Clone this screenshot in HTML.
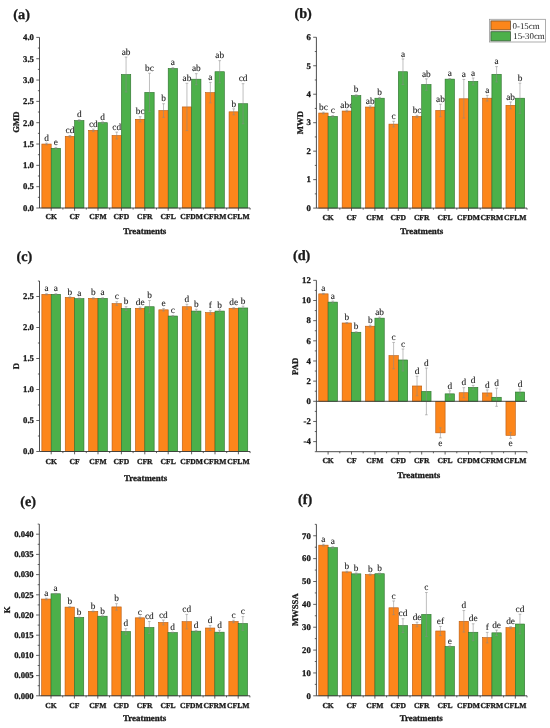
<!DOCTYPE html>
<html><head><meta charset="utf-8"><style>
html,body{margin:0;padding:0;background:#fff;}
svg{display:block;will-change:transform;}
text{font-family:"Liberation Serif", serif;fill:#1a1a1a;text-rendering:geometricPrecision;}
text[font-weight=bold]{stroke:#1a1a1a;stroke-width:0.3px;}
text.l{stroke:#1a1a1a;stroke-width:0.12px;}
</style></head><body>
<svg width="550" height="728" viewBox="0 0 550 728">
<rect width="550" height="728" fill="#fff"/>
<text x="13.3" y="19.2" font-size="14.3" font-weight="bold">(a)</text>
<rect x="41.85" y="144.03" width="9.35" height="63.97" fill="#fc861b" stroke="#b85a10" stroke-width="0.6"/>
<path d="M46.52 143.17V144.88M45.17 143.17H47.88M45.17 144.88H47.88" stroke="#8a8a8a" stroke-width="0.55" fill="none"/>
<text x="46.52" y="140.87" font-size="9.3" text-anchor="middle" class="l">d</text>
<rect x="51.2" y="148.29" width="9.35" height="59.71" fill="#4cb04a" stroke="#2c6e2c" stroke-width="0.6"/>
<path d="M55.88 147.44V149.14M54.52 147.44H57.23M54.52 149.14H57.23" stroke="#8a8a8a" stroke-width="0.55" fill="none"/>
<text x="55.88" y="145.14" font-size="9.3" text-anchor="middle" class="l">e</text>
<rect x="65.25" y="136.35" width="9.35" height="71.65" fill="#fc861b" stroke="#b85a10" stroke-width="0.6"/>
<path d="M69.92 135.5V137.2M68.58 135.5H71.27M68.58 137.2H71.27" stroke="#8a8a8a" stroke-width="0.55" fill="none"/>
<text x="69.92" y="133.19" font-size="9.3" text-anchor="middle" class="l">cd</text>
<rect x="74.6" y="120.57" width="9.35" height="87.43" fill="#4cb04a" stroke="#2c6e2c" stroke-width="0.6"/>
<path d="M79.27 119.71V121.42M77.92 119.71H80.62M77.92 121.42H80.62" stroke="#8a8a8a" stroke-width="0.55" fill="none"/>
<text x="79.27" y="117.41" font-size="9.3" text-anchor="middle" class="l">d</text>
<rect x="88.65" y="130.38" width="9.35" height="77.62" fill="#fc861b" stroke="#b85a10" stroke-width="0.6"/>
<path d="M93.33 129.1V131.66M91.98 129.1H94.67M91.98 131.66H94.67" stroke="#8a8a8a" stroke-width="0.55" fill="none"/>
<text x="93.33" y="126.8" font-size="9.3" text-anchor="middle" class="l">cd</text>
<rect x="98" y="122.7" width="9.35" height="85.3" fill="#4cb04a" stroke="#2c6e2c" stroke-width="0.6"/>
<path d="M102.67 121.85V123.55M101.33 121.85H104.02M101.33 123.55H104.02" stroke="#8a8a8a" stroke-width="0.55" fill="none"/>
<text x="102.67" y="119.55" font-size="9.3" text-anchor="middle" class="l">d</text>
<rect x="112.05" y="135.5" width="9.35" height="72.5" fill="#fc861b" stroke="#b85a10" stroke-width="0.6"/>
<path d="M116.72 132.08V138.91M115.38 132.08H118.07M115.38 138.91H118.07" stroke="#8a8a8a" stroke-width="0.55" fill="none"/>
<text x="116.72" y="129.78" font-size="9.3" text-anchor="middle" class="l">cd</text>
<rect x="121.4" y="74.51" width="9.35" height="133.49" fill="#4cb04a" stroke="#2c6e2c" stroke-width="0.6"/>
<path d="M126.07 57.02V91.99M124.72 57.02H127.42M124.72 91.99H127.42" stroke="#8a8a8a" stroke-width="0.55" fill="none"/>
<text x="126.07" y="54.72" font-size="9.3" text-anchor="middle" class="l">ab</text>
<rect x="135.45" y="119.29" width="9.35" height="88.71" fill="#fc861b" stroke="#b85a10" stroke-width="0.6"/>
<path d="M140.13 116.73V121.85M138.78 116.73H141.48M138.78 121.85H141.48" stroke="#8a8a8a" stroke-width="0.55" fill="none"/>
<text x="140.13" y="114.43" font-size="9.3" text-anchor="middle" class="l">bc</text>
<rect x="144.8" y="92.42" width="9.35" height="115.58" fill="#4cb04a" stroke="#2c6e2c" stroke-width="0.6"/>
<path d="M149.48 73.23V111.61M148.13 73.23H150.83M148.13 111.61H150.83" stroke="#8a8a8a" stroke-width="0.55" fill="none"/>
<text x="149.48" y="70.93" font-size="9.3" text-anchor="middle" class="l">bc</text>
<rect x="158.85" y="110.54" width="9.35" height="97.46" fill="#fc861b" stroke="#b85a10" stroke-width="0.6"/>
<path d="M163.53 103.72V117.37M162.18 103.72H164.88M162.18 117.37H164.88" stroke="#8a8a8a" stroke-width="0.55" fill="none"/>
<text x="163.53" y="101.42" font-size="9.3" text-anchor="middle" class="l">b</text>
<rect x="168.2" y="68.53" width="9.35" height="139.47" fill="#4cb04a" stroke="#2c6e2c" stroke-width="0.6"/>
<path d="M172.88 67.68V69.39M171.53 67.68H174.22M171.53 69.39H174.22" stroke="#8a8a8a" stroke-width="0.55" fill="none"/>
<text x="172.88" y="65.38" font-size="9.3" text-anchor="middle" class="l">a</text>
<rect x="182.25" y="106.92" width="9.35" height="101.08" fill="#fc861b" stroke="#b85a10" stroke-width="0.6"/>
<path d="M186.93 83.25V130.59M185.58 83.25H188.28M185.58 130.59H188.28" stroke="#8a8a8a" stroke-width="0.55" fill="none"/>
<text x="186.93" y="80.95" font-size="9.3" text-anchor="middle" class="l">ab</text>
<rect x="191.6" y="79.2" width="9.35" height="128.8" fill="#4cb04a" stroke="#2c6e2c" stroke-width="0.6"/>
<path d="M196.28 73.65V84.74M194.93 73.65H197.62M194.93 84.74H197.62" stroke="#8a8a8a" stroke-width="0.55" fill="none"/>
<text x="196.28" y="71.35" font-size="9.3" text-anchor="middle" class="l">ab</text>
<rect x="205.65" y="92.63" width="9.35" height="115.37" fill="#fc861b" stroke="#b85a10" stroke-width="0.6"/>
<path d="M210.33 82.4V102.87M208.98 82.4H211.68M208.98 102.87H211.68" stroke="#8a8a8a" stroke-width="0.55" fill="none"/>
<text x="210.33" y="80.1" font-size="9.3" text-anchor="middle" class="l">a</text>
<rect x="215" y="71.73" width="9.35" height="136.27" fill="#4cb04a" stroke="#2c6e2c" stroke-width="0.6"/>
<path d="M219.68 60.64V82.82M218.33 60.64H221.03M218.33 82.82H221.03" stroke="#8a8a8a" stroke-width="0.55" fill="none"/>
<text x="219.68" y="58.34" font-size="9.3" text-anchor="middle" class="l">ab</text>
<rect x="229.05" y="111.82" width="9.35" height="96.18" fill="#fc861b" stroke="#b85a10" stroke-width="0.6"/>
<path d="M233.72 108.84V114.81M232.38 108.84H235.07M232.38 114.81H235.07" stroke="#8a8a8a" stroke-width="0.55" fill="none"/>
<text x="233.72" y="106.54" font-size="9.3" text-anchor="middle" class="l">b</text>
<rect x="238.4" y="103.72" width="9.35" height="104.28" fill="#4cb04a" stroke="#2c6e2c" stroke-width="0.6"/>
<path d="M243.07 83.68V123.77M241.72 83.68H244.42M241.72 123.77H244.42" stroke="#8a8a8a" stroke-width="0.55" fill="none"/>
<text x="243.07" y="81.38" font-size="9.3" text-anchor="middle" class="l">cd</text>
<path d="M39.5 37.4V208H250.1" stroke="#3a3a3a" stroke-width="0.9" fill="none"/>
<text x="33.9" y="210.8" font-size="8.7" font-weight="bold" text-anchor="end">0.0</text>
<text x="33.9" y="189.48" font-size="8.7" font-weight="bold" text-anchor="end">0.5</text>
<text x="33.9" y="168.15" font-size="8.7" font-weight="bold" text-anchor="end">1.0</text>
<text x="33.9" y="146.83" font-size="8.7" font-weight="bold" text-anchor="end">1.5</text>
<text x="33.9" y="125.5" font-size="8.7" font-weight="bold" text-anchor="end">2.0</text>
<text x="33.9" y="104.17" font-size="8.7" font-weight="bold" text-anchor="end">2.5</text>
<text x="33.9" y="82.85" font-size="8.7" font-weight="bold" text-anchor="end">3.0</text>
<text x="33.9" y="61.52" font-size="8.7" font-weight="bold" text-anchor="end">3.5</text>
<text x="33.9" y="40.2" font-size="8.7" font-weight="bold" text-anchor="end">4.0</text>
<text x="51.2" y="219.4" font-size="7.6" font-weight="bold" text-anchor="middle">CK</text>
<text x="74.6" y="219.4" font-size="7.6" font-weight="bold" text-anchor="middle">CF</text>
<text x="98" y="219.4" font-size="7.6" font-weight="bold" text-anchor="middle">CFM</text>
<text x="121.4" y="219.4" font-size="7.6" font-weight="bold" text-anchor="middle">CFD</text>
<text x="144.8" y="219.4" font-size="7.6" font-weight="bold" text-anchor="middle">CFR</text>
<text x="168.2" y="219.4" font-size="7.6" font-weight="bold" text-anchor="middle">CFL</text>
<text x="191.6" y="219.4" font-size="7.6" font-weight="bold" text-anchor="middle">CFDM</text>
<text x="215" y="219.4" font-size="7.6" font-weight="bold" text-anchor="middle">CFRM</text>
<text x="238.4" y="219.4" font-size="7.6" font-weight="bold" text-anchor="middle">CFLM</text>
<path d="M36.3 208H39.5M36.3 186.68H39.5M36.3 165.35H39.5M36.3 144.03H39.5M36.3 122.7H39.5M36.3 101.38H39.5M36.3 80.05H39.5M36.3 58.72H39.5M36.3 37.4H39.5M37.9 197.34H39.5M37.9 176.01H39.5M37.9 154.69H39.5M37.9 133.36H39.5M37.9 112.04H39.5M37.9 90.71H39.5M37.9 69.39H39.5M37.9 48.06H39.5M51.2 208V210.8M62.9 208V209.6M74.6 208V210.8M86.3 208V209.6M98 208V210.8M109.7 208V209.6M121.4 208V210.8M133.1 208V209.6M144.8 208V210.8M156.5 208V209.6M168.2 208V210.8M179.9 208V209.6M191.6 208V210.8M203.3 208V209.6M215 208V210.8M226.7 208V209.6M238.4 208V210.8M250.1 208V209.6" stroke="#3a3a3a" stroke-width="0.8" fill="none"/>
<text x="144.8" y="233.8" font-size="8.9" font-weight="bold" text-anchor="middle">Treatments</text>
<text transform="translate(19.3 122.2) rotate(-90)" font-size="8.7" font-weight="bold" text-anchor="middle">GMD</text>
<text x="294.4" y="17.9" font-size="14.3" font-weight="bold">(b)</text>
<rect x="318.75" y="113.01" width="9.35" height="95.09" fill="#fc861b" stroke="#b85a10" stroke-width="0.6"/>
<path d="M323.42 112.16V113.86M322.07 112.16H324.77M322.07 113.86H324.77" stroke="#8a8a8a" stroke-width="0.55" fill="none"/>
<text x="323.42" y="109.86" font-size="9.3" text-anchor="middle" class="l">bc</text>
<rect x="328.1" y="116.43" width="9.35" height="91.67" fill="#4cb04a" stroke="#2c6e2c" stroke-width="0.6"/>
<path d="M332.77 115.57V117.28M331.42 115.57H334.12M331.42 117.28H334.12" stroke="#8a8a8a" stroke-width="0.55" fill="none"/>
<text x="332.77" y="113.27" font-size="9.3" text-anchor="middle" class="l">c</text>
<rect x="342.15" y="111.02" width="9.35" height="97.08" fill="#fc861b" stroke="#b85a10" stroke-width="0.6"/>
<path d="M346.82 110.16V111.87M345.47 110.16H348.18M345.47 111.87H348.18" stroke="#8a8a8a" stroke-width="0.55" fill="none"/>
<text x="346.82" y="107.86" font-size="9.3" text-anchor="middle" class="l">abc</text>
<rect x="351.5" y="95.64" width="9.35" height="112.46" fill="#4cb04a" stroke="#2c6e2c" stroke-width="0.6"/>
<path d="M356.18 94.79V96.5M354.82 94.79H357.53M354.82 96.5H357.53" stroke="#8a8a8a" stroke-width="0.55" fill="none"/>
<text x="356.18" y="92.49" font-size="9.3" text-anchor="middle" class="l">b</text>
<rect x="365.55" y="107.03" width="9.35" height="101.07" fill="#fc861b" stroke="#b85a10" stroke-width="0.6"/>
<path d="M370.22 105.89V108.17M368.87 105.89H371.57M368.87 108.17H371.57" stroke="#8a8a8a" stroke-width="0.55" fill="none"/>
<text x="370.22" y="103.59" font-size="9.3" text-anchor="middle" class="l">ab</text>
<rect x="374.9" y="98.21" width="9.35" height="109.89" fill="#4cb04a" stroke="#2c6e2c" stroke-width="0.6"/>
<path d="M379.57 97.35V99.06M378.22 97.35H380.93M378.22 99.06H380.93" stroke="#8a8a8a" stroke-width="0.55" fill="none"/>
<text x="379.57" y="95.05" font-size="9.3" text-anchor="middle" class="l">b</text>
<rect x="388.95" y="124.11" width="9.35" height="83.99" fill="#fc861b" stroke="#b85a10" stroke-width="0.6"/>
<path d="M393.62 121.27V126.96M392.27 121.27H394.97M392.27 126.96H394.97" stroke="#8a8a8a" stroke-width="0.55" fill="none"/>
<text x="393.62" y="118.97" font-size="9.3" text-anchor="middle" class="l">c</text>
<rect x="398.3" y="71.73" width="9.35" height="136.37" fill="#4cb04a" stroke="#2c6e2c" stroke-width="0.6"/>
<path d="M402.97 58.92V84.54M401.62 58.92H404.32M401.62 84.54H404.32" stroke="#8a8a8a" stroke-width="0.55" fill="none"/>
<text x="402.97" y="56.62" font-size="9.3" text-anchor="middle" class="l">a</text>
<rect x="412.35" y="116.43" width="9.35" height="91.67" fill="#fc861b" stroke="#b85a10" stroke-width="0.6"/>
<path d="M417.02 115.29V117.57M415.67 115.29H418.38M415.67 117.57H418.38" stroke="#8a8a8a" stroke-width="0.55" fill="none"/>
<text x="417.02" y="112.99" font-size="9.3" text-anchor="middle" class="l">bc</text>
<rect x="421.7" y="84.54" width="9.35" height="123.56" fill="#4cb04a" stroke="#2c6e2c" stroke-width="0.6"/>
<path d="M426.38 78.85V90.23M425.02 78.85H427.73M425.02 90.23H427.73" stroke="#8a8a8a" stroke-width="0.55" fill="none"/>
<text x="426.38" y="76.55" font-size="9.3" text-anchor="middle" class="l">ab</text>
<rect x="435.75" y="110.45" width="9.35" height="97.65" fill="#fc861b" stroke="#b85a10" stroke-width="0.6"/>
<path d="M440.42 104.18V116.71M439.07 104.18H441.77M439.07 116.71H441.77" stroke="#8a8a8a" stroke-width="0.55" fill="none"/>
<text x="440.42" y="101.88" font-size="9.3" text-anchor="middle" class="l">ab</text>
<rect x="445.1" y="79.13" width="9.35" height="128.97" fill="#4cb04a" stroke="#2c6e2c" stroke-width="0.6"/>
<path d="M449.77 78.56V79.7M448.42 78.56H451.12M448.42 79.7H451.12" stroke="#8a8a8a" stroke-width="0.55" fill="none"/>
<text x="449.77" y="76.26" font-size="9.3" text-anchor="middle" class="l">a</text>
<rect x="459.15" y="98.78" width="9.35" height="109.32" fill="#fc861b" stroke="#b85a10" stroke-width="0.6"/>
<path d="M463.82 79.42V118.13M462.47 79.42H465.18M462.47 118.13H465.18" stroke="#8a8a8a" stroke-width="0.55" fill="none"/>
<text x="463.82" y="77.12" font-size="9.3" text-anchor="middle" class="l">a</text>
<rect x="468.5" y="81.41" width="9.35" height="126.69" fill="#4cb04a" stroke="#2c6e2c" stroke-width="0.6"/>
<path d="M473.18 77.99V84.82M471.82 77.99H474.53M471.82 84.82H474.53" stroke="#8a8a8a" stroke-width="0.55" fill="none"/>
<text x="473.18" y="75.69" font-size="9.3" text-anchor="middle" class="l">a</text>
<rect x="482.55" y="98.21" width="9.35" height="109.89" fill="#fc861b" stroke="#b85a10" stroke-width="0.6"/>
<path d="M487.22 95.36V101.05M485.87 95.36H488.57M485.87 101.05H488.57" stroke="#8a8a8a" stroke-width="0.55" fill="none"/>
<text x="487.22" y="93.06" font-size="9.3" text-anchor="middle" class="l">a</text>
<rect x="491.9" y="74.29" width="9.35" height="133.81" fill="#4cb04a" stroke="#2c6e2c" stroke-width="0.6"/>
<path d="M496.57 66.6V81.98M495.22 66.6H497.93M495.22 81.98H497.93" stroke="#8a8a8a" stroke-width="0.55" fill="none"/>
<text x="496.57" y="64.3" font-size="9.3" text-anchor="middle" class="l">a</text>
<rect x="505.95" y="105.32" width="9.35" height="102.78" fill="#fc861b" stroke="#b85a10" stroke-width="0.6"/>
<path d="M510.62 101.91V108.74M509.27 101.91H511.97M509.27 108.74H511.97" stroke="#8a8a8a" stroke-width="0.55" fill="none"/>
<text x="510.62" y="99.61" font-size="9.3" text-anchor="middle" class="l">ab</text>
<rect x="515.3" y="98.21" width="9.35" height="109.89" fill="#4cb04a" stroke="#2c6e2c" stroke-width="0.6"/>
<path d="M519.97 83.12V113.29M518.62 83.12H521.32M518.62 113.29H521.32" stroke="#8a8a8a" stroke-width="0.55" fill="none"/>
<text x="519.97" y="80.82" font-size="9.3" text-anchor="middle" class="l">b</text>
<path d="M316.4 37.28V208.1H527" stroke="#3a3a3a" stroke-width="0.9" fill="none"/>
<text x="310.8" y="210.9" font-size="8.7" font-weight="bold" text-anchor="end">0</text>
<text x="310.8" y="182.43" font-size="8.7" font-weight="bold" text-anchor="end">1</text>
<text x="310.8" y="153.96" font-size="8.7" font-weight="bold" text-anchor="end">2</text>
<text x="310.8" y="125.49" font-size="8.7" font-weight="bold" text-anchor="end">3</text>
<text x="310.8" y="97.02" font-size="8.7" font-weight="bold" text-anchor="end">4</text>
<text x="310.8" y="68.55" font-size="8.7" font-weight="bold" text-anchor="end">5</text>
<text x="310.8" y="40.08" font-size="8.7" font-weight="bold" text-anchor="end">6</text>
<text x="328.1" y="219.5" font-size="7.6" font-weight="bold" text-anchor="middle">CK</text>
<text x="351.5" y="219.5" font-size="7.6" font-weight="bold" text-anchor="middle">CF</text>
<text x="374.9" y="219.5" font-size="7.6" font-weight="bold" text-anchor="middle">CFM</text>
<text x="398.3" y="219.5" font-size="7.6" font-weight="bold" text-anchor="middle">CFD</text>
<text x="421.7" y="219.5" font-size="7.6" font-weight="bold" text-anchor="middle">CFR</text>
<text x="445.1" y="219.5" font-size="7.6" font-weight="bold" text-anchor="middle">CFL</text>
<text x="468.5" y="219.5" font-size="7.6" font-weight="bold" text-anchor="middle">CFDM</text>
<text x="491.9" y="219.5" font-size="7.6" font-weight="bold" text-anchor="middle">CFRM</text>
<text x="515.3" y="219.5" font-size="7.6" font-weight="bold" text-anchor="middle">CFLM</text>
<path d="M313.2 208.1H316.4M313.2 179.63H316.4M313.2 151.16H316.4M313.2 122.69H316.4M313.2 94.22H316.4M313.2 65.75H316.4M313.2 37.28H316.4M314.8 193.87H316.4M314.8 165.39H316.4M314.8 136.93H316.4M314.8 108.45H316.4M314.8 79.98H316.4M314.8 51.52H316.4M328.1 208.1V210.9M339.8 208.1V209.7M351.5 208.1V210.9M363.2 208.1V209.7M374.9 208.1V210.9M386.6 208.1V209.7M398.3 208.1V210.9M410 208.1V209.7M421.7 208.1V210.9M433.4 208.1V209.7M445.1 208.1V210.9M456.8 208.1V209.7M468.5 208.1V210.9M480.2 208.1V209.7M491.9 208.1V210.9M503.6 208.1V209.7M515.3 208.1V210.9M527 208.1V209.7" stroke="#3a3a3a" stroke-width="0.8" fill="none"/>
<text x="421.7" y="233.9" font-size="8.9" font-weight="bold" text-anchor="middle">Treatments</text>
<text transform="translate(302.7 122.6) rotate(-90)" font-size="8.7" font-weight="bold" text-anchor="middle">MWD</text>
<text x="16.4" y="260.7" font-size="14.3" font-weight="bold">(c)</text>
<rect x="41.85" y="294.33" width="9.35" height="157.17" fill="#fc861b" stroke="#b85a10" stroke-width="0.6"/>
<path d="M46.52 293.71V294.95M45.17 293.71H47.88M45.17 294.95H47.88" stroke="#8a8a8a" stroke-width="0.55" fill="none"/>
<text x="46.52" y="291.41" font-size="9.3" text-anchor="middle" class="l">a</text>
<rect x="51.2" y="294.33" width="9.35" height="157.17" fill="#4cb04a" stroke="#2c6e2c" stroke-width="0.6"/>
<path d="M55.88 293.71V294.95M54.52 293.71H57.23M54.52 294.95H57.23" stroke="#8a8a8a" stroke-width="0.55" fill="none"/>
<text x="55.88" y="291.41" font-size="9.3" text-anchor="middle" class="l">a</text>
<rect x="65.25" y="297.43" width="9.35" height="154.07" fill="#fc861b" stroke="#b85a10" stroke-width="0.6"/>
<path d="M69.92 296.81V298.05M68.58 296.81H71.27M68.58 298.05H71.27" stroke="#8a8a8a" stroke-width="0.55" fill="none"/>
<text x="69.92" y="294.51" font-size="9.3" text-anchor="middle" class="l">b</text>
<rect x="74.6" y="298.67" width="9.35" height="152.83" fill="#4cb04a" stroke="#2c6e2c" stroke-width="0.6"/>
<path d="M79.27 298.05V299.29M77.92 298.05H80.62M77.92 299.29H80.62" stroke="#8a8a8a" stroke-width="0.55" fill="none"/>
<text x="79.27" y="295.75" font-size="9.3" text-anchor="middle" class="l">a</text>
<rect x="88.65" y="298.36" width="9.35" height="153.14" fill="#fc861b" stroke="#b85a10" stroke-width="0.6"/>
<path d="M93.33 297.74V298.98M91.98 297.74H94.67M91.98 298.98H94.67" stroke="#8a8a8a" stroke-width="0.55" fill="none"/>
<text x="93.33" y="295.44" font-size="9.3" text-anchor="middle" class="l">b</text>
<rect x="98" y="298.36" width="9.35" height="153.14" fill="#4cb04a" stroke="#2c6e2c" stroke-width="0.6"/>
<path d="M102.67 297.74V298.98M101.33 297.74H104.02M101.33 298.98H104.02" stroke="#8a8a8a" stroke-width="0.55" fill="none"/>
<text x="102.67" y="295.44" font-size="9.3" text-anchor="middle" class="l">a</text>
<rect x="112.05" y="303.63" width="9.35" height="147.87" fill="#fc861b" stroke="#b85a10" stroke-width="0.6"/>
<path d="M116.72 301.77V305.49M115.38 301.77H118.07M115.38 305.49H118.07" stroke="#8a8a8a" stroke-width="0.55" fill="none"/>
<text x="116.72" y="299.47" font-size="9.3" text-anchor="middle" class="l">c</text>
<rect x="121.4" y="308.59" width="9.35" height="142.91" fill="#4cb04a" stroke="#2c6e2c" stroke-width="0.6"/>
<path d="M126.07 306.73V310.45M124.72 306.73H127.42M124.72 310.45H127.42" stroke="#8a8a8a" stroke-width="0.55" fill="none"/>
<text x="126.07" y="304.43" font-size="9.3" text-anchor="middle" class="l">b</text>
<rect x="135.45" y="308.28" width="9.35" height="143.22" fill="#fc861b" stroke="#b85a10" stroke-width="0.6"/>
<path d="M140.13 307.04V309.52M138.78 307.04H141.48M138.78 309.52H141.48" stroke="#8a8a8a" stroke-width="0.55" fill="none"/>
<text x="140.13" y="304.74" font-size="9.3" text-anchor="middle" class="l">de</text>
<rect x="144.8" y="306.73" width="9.35" height="144.77" fill="#4cb04a" stroke="#2c6e2c" stroke-width="0.6"/>
<path d="M149.48 300.53V312.93M148.13 300.53H150.83M148.13 312.93H150.83" stroke="#8a8a8a" stroke-width="0.55" fill="none"/>
<text x="149.48" y="298.23" font-size="9.3" text-anchor="middle" class="l">b</text>
<rect x="158.85" y="309.83" width="9.35" height="141.67" fill="#fc861b" stroke="#b85a10" stroke-width="0.6"/>
<path d="M163.53 308.59V311.07M162.18 308.59H164.88M162.18 311.07H164.88" stroke="#8a8a8a" stroke-width="0.55" fill="none"/>
<text x="163.53" y="306.29" font-size="9.3" text-anchor="middle" class="l">e</text>
<rect x="168.2" y="316.03" width="9.35" height="135.47" fill="#4cb04a" stroke="#2c6e2c" stroke-width="0.6"/>
<path d="M172.88 315.41V316.65M171.53 315.41H174.22M171.53 316.65H174.22" stroke="#8a8a8a" stroke-width="0.55" fill="none"/>
<text x="172.88" y="313.11" font-size="9.3" text-anchor="middle" class="l">c</text>
<rect x="182.25" y="306.73" width="9.35" height="144.77" fill="#fc861b" stroke="#b85a10" stroke-width="0.6"/>
<path d="M186.93 304.25V309.21M185.58 304.25H188.28M185.58 309.21H188.28" stroke="#8a8a8a" stroke-width="0.55" fill="none"/>
<text x="186.93" y="301.95" font-size="9.3" text-anchor="middle" class="l">d</text>
<rect x="191.6" y="311.07" width="9.35" height="140.43" fill="#4cb04a" stroke="#2c6e2c" stroke-width="0.6"/>
<path d="M196.28 309.21V312.93M194.93 309.21H197.62M194.93 312.93H197.62" stroke="#8a8a8a" stroke-width="0.55" fill="none"/>
<text x="196.28" y="306.91" font-size="9.3" text-anchor="middle" class="l">b</text>
<rect x="205.65" y="312.62" width="9.35" height="138.88" fill="#fc861b" stroke="#b85a10" stroke-width="0.6"/>
<path d="M210.33 310.76V314.48M208.98 310.76H211.68M208.98 314.48H211.68" stroke="#8a8a8a" stroke-width="0.55" fill="none"/>
<text x="210.33" y="308.46" font-size="9.3" text-anchor="middle" class="l">f</text>
<rect x="215" y="311.07" width="9.35" height="140.43" fill="#4cb04a" stroke="#2c6e2c" stroke-width="0.6"/>
<path d="M219.68 309.83V312.31M218.33 309.83H221.03M218.33 312.31H221.03" stroke="#8a8a8a" stroke-width="0.55" fill="none"/>
<text x="219.68" y="307.53" font-size="9.3" text-anchor="middle" class="l">b</text>
<rect x="229.05" y="308.28" width="9.35" height="143.22" fill="#fc861b" stroke="#b85a10" stroke-width="0.6"/>
<path d="M233.72 307.66V308.9M232.38 307.66H235.07M232.38 308.9H235.07" stroke="#8a8a8a" stroke-width="0.55" fill="none"/>
<text x="233.72" y="305.36" font-size="9.3" text-anchor="middle" class="l">de</text>
<rect x="238.4" y="307.97" width="9.35" height="143.53" fill="#4cb04a" stroke="#2c6e2c" stroke-width="0.6"/>
<path d="M243.07 306.11V309.83M241.72 306.11H244.42M241.72 309.83H244.42" stroke="#8a8a8a" stroke-width="0.55" fill="none"/>
<text x="243.07" y="303.81" font-size="9.3" text-anchor="middle" class="l">b</text>
<path d="M39.5 281V451.5H250.1" stroke="#3a3a3a" stroke-width="0.9" fill="none"/>
<text x="33.9" y="454.3" font-size="8.7" font-weight="bold" text-anchor="end">0.0</text>
<text x="33.9" y="423.3" font-size="8.7" font-weight="bold" text-anchor="end">0.5</text>
<text x="33.9" y="392.3" font-size="8.7" font-weight="bold" text-anchor="end">1.0</text>
<text x="33.9" y="361.3" font-size="8.7" font-weight="bold" text-anchor="end">1.5</text>
<text x="33.9" y="330.3" font-size="8.7" font-weight="bold" text-anchor="end">2.0</text>
<text x="33.9" y="299.3" font-size="8.7" font-weight="bold" text-anchor="end">2.5</text>
<text x="51.2" y="463.6" font-size="7.6" font-weight="bold" text-anchor="middle">CK</text>
<text x="74.6" y="463.6" font-size="7.6" font-weight="bold" text-anchor="middle">CF</text>
<text x="98" y="463.6" font-size="7.6" font-weight="bold" text-anchor="middle">CFM</text>
<text x="121.4" y="463.6" font-size="7.6" font-weight="bold" text-anchor="middle">CFD</text>
<text x="144.8" y="463.6" font-size="7.6" font-weight="bold" text-anchor="middle">CFR</text>
<text x="168.2" y="463.6" font-size="7.6" font-weight="bold" text-anchor="middle">CFL</text>
<text x="191.6" y="463.6" font-size="7.6" font-weight="bold" text-anchor="middle">CFDM</text>
<text x="215" y="463.6" font-size="7.6" font-weight="bold" text-anchor="middle">CFRM</text>
<text x="238.4" y="463.6" font-size="7.6" font-weight="bold" text-anchor="middle">CFLM</text>
<path d="M36.3 451.5H39.5M36.3 420.5H39.5M36.3 389.5H39.5M36.3 358.5H39.5M36.3 327.5H39.5M36.3 296.5H39.5M37.9 436H39.5M37.9 405H39.5M37.9 374H39.5M37.9 343H39.5M37.9 312H39.5M37.9 281H39.5M51.2 451.5V454.3M62.9 451.5V453.1M74.6 451.5V454.3M86.3 451.5V453.1M98 451.5V454.3M109.7 451.5V453.1M121.4 451.5V454.3M133.1 451.5V453.1M144.8 451.5V454.3M156.5 451.5V453.1M168.2 451.5V454.3M179.9 451.5V453.1M191.6 451.5V454.3M203.3 451.5V453.1M215 451.5V454.3M226.7 451.5V453.1M238.4 451.5V454.3M250.1 451.5V453.1" stroke="#3a3a3a" stroke-width="0.8" fill="none"/>
<text x="145.6" y="480.9" font-size="8.9" font-weight="bold" text-anchor="middle">Treatments</text>
<text transform="translate(19.1 366.2) rotate(-90)" font-size="8.7" font-weight="bold" text-anchor="middle">D</text>
<text x="292.9" y="259.9" font-size="14.3" font-weight="bold">(d)</text>
<rect x="318.75" y="293.85" width="9.35" height="107.45" fill="#fc861b" stroke="#b85a10" stroke-width="0.6"/>
<path d="M323.42 293.34V294.35M322.07 293.34H324.77M322.07 294.35H324.77" stroke="#8a8a8a" stroke-width="0.55" fill="none"/>
<text x="323.42" y="291.04" font-size="9.3" text-anchor="middle" class="l">a</text>
<rect x="328.1" y="302.11" width="9.35" height="99.19" fill="#4cb04a" stroke="#2c6e2c" stroke-width="0.6"/>
<path d="M332.77 301.1V303.12M331.42 301.1H334.12M331.42 303.12H334.12" stroke="#8a8a8a" stroke-width="0.55" fill="none"/>
<text x="332.77" y="298.8" font-size="9.3" text-anchor="middle" class="l">a</text>
<rect x="342.15" y="322.98" width="9.35" height="78.32" fill="#fc861b" stroke="#b85a10" stroke-width="0.6"/>
<path d="M346.82 322.47V323.48M345.47 322.47H348.18M345.47 323.48H348.18" stroke="#8a8a8a" stroke-width="0.55" fill="none"/>
<text x="346.82" y="320.17" font-size="9.3" text-anchor="middle" class="l">b</text>
<rect x="351.5" y="332.25" width="9.35" height="69.05" fill="#4cb04a" stroke="#2c6e2c" stroke-width="0.6"/>
<path d="M356.18 331.75V332.76M354.82 331.75H357.53M354.82 332.76H357.53" stroke="#8a8a8a" stroke-width="0.55" fill="none"/>
<text x="356.18" y="329.45" font-size="9.3" text-anchor="middle" class="l">b</text>
<rect x="365.55" y="326.2" width="9.35" height="75.1" fill="#fc861b" stroke="#b85a10" stroke-width="0.6"/>
<path d="M370.22 325.2V327.21M368.87 325.2H371.57M368.87 327.21H371.57" stroke="#8a8a8a" stroke-width="0.55" fill="none"/>
<text x="370.22" y="322.9" font-size="9.3" text-anchor="middle" class="l">b</text>
<rect x="374.9" y="318.14" width="9.35" height="83.16" fill="#4cb04a" stroke="#2c6e2c" stroke-width="0.6"/>
<path d="M379.57 317.13V319.15M378.22 317.13H380.93M378.22 319.15H380.93" stroke="#8a8a8a" stroke-width="0.55" fill="none"/>
<text x="379.57" y="314.83" font-size="9.3" text-anchor="middle" class="l">ab</text>
<rect x="388.95" y="355.64" width="9.35" height="45.66" fill="#fc861b" stroke="#b85a10" stroke-width="0.6"/>
<path d="M393.62 342.43V368.84M392.27 342.43H394.97M392.27 368.84H394.97" stroke="#8a8a8a" stroke-width="0.55" fill="none"/>
<text x="393.62" y="340.13" font-size="9.3" text-anchor="middle" class="l">c</text>
<rect x="398.3" y="359.97" width="9.35" height="41.33" fill="#4cb04a" stroke="#2c6e2c" stroke-width="0.6"/>
<path d="M402.97 348.98V370.96M401.62 348.98H404.32M401.62 370.96H404.32" stroke="#8a8a8a" stroke-width="0.55" fill="none"/>
<text x="402.97" y="346.68" font-size="9.3" text-anchor="middle" class="l">c</text>
<rect x="412.35" y="385.98" width="9.35" height="15.32" fill="#fc861b" stroke="#b85a10" stroke-width="0.6"/>
<path d="M417.02 376.2V395.76M415.67 376.2H418.38M415.67 395.76H418.38" stroke="#8a8a8a" stroke-width="0.55" fill="none"/>
<text x="417.02" y="373.9" font-size="9.3" text-anchor="middle" class="l">d</text>
<rect x="421.7" y="391.42" width="9.35" height="9.88" fill="#4cb04a" stroke="#2c6e2c" stroke-width="0.6"/>
<path d="M426.38 368.04V414.81M425.02 368.04H427.73M425.02 414.81H427.73" stroke="#8a8a8a" stroke-width="0.55" fill="none"/>
<text x="426.38" y="365.74" font-size="9.3" text-anchor="middle" class="l">d</text>
<rect x="435.75" y="401.3" width="9.35" height="31.55" fill="#fc861b" stroke="#b85a10" stroke-width="0.6"/>
<path d="M440.42 427.81V437.89M439.07 427.81H441.77M439.07 437.89H441.77" stroke="#8a8a8a" stroke-width="0.55" fill="none"/>
<text x="440.42" y="445.69" font-size="9.3" text-anchor="middle" class="l">e</text>
<rect x="445.1" y="393.84" width="9.35" height="7.46" fill="#4cb04a" stroke="#2c6e2c" stroke-width="0.6"/>
<path d="M449.77 390.82V396.86M448.42 390.82H451.12M448.42 396.86H451.12" stroke="#8a8a8a" stroke-width="0.55" fill="none"/>
<text x="449.77" y="388.52" font-size="9.3" text-anchor="middle" class="l">d</text>
<rect x="459.15" y="392.73" width="9.35" height="8.57" fill="#fc861b" stroke="#b85a10" stroke-width="0.6"/>
<path d="M463.82 387.69V397.77M462.47 387.69H465.18M462.47 397.77H465.18" stroke="#8a8a8a" stroke-width="0.55" fill="none"/>
<text x="463.82" y="385.39" font-size="9.3" text-anchor="middle" class="l">d</text>
<rect x="468.5" y="387.39" width="9.35" height="13.91" fill="#4cb04a" stroke="#2c6e2c" stroke-width="0.6"/>
<path d="M473.18 385.37V389.41M471.82 385.37H474.53M471.82 389.41H474.53" stroke="#8a8a8a" stroke-width="0.55" fill="none"/>
<text x="473.18" y="383.07" font-size="9.3" text-anchor="middle" class="l">d</text>
<rect x="482.55" y="392.93" width="9.35" height="8.37" fill="#fc861b" stroke="#b85a10" stroke-width="0.6"/>
<path d="M487.22 389.91V395.96M485.87 389.91H488.57M485.87 395.96H488.57" stroke="#8a8a8a" stroke-width="0.55" fill="none"/>
<text x="487.22" y="387.61" font-size="9.3" text-anchor="middle" class="l">d</text>
<rect x="491.9" y="397.27" width="9.35" height="4.03" fill="#4cb04a" stroke="#2c6e2c" stroke-width="0.6"/>
<path d="M496.57 388.2V406.34M495.22 388.2H497.93M495.22 406.34H497.93" stroke="#8a8a8a" stroke-width="0.55" fill="none"/>
<text x="496.57" y="385.9" font-size="9.3" text-anchor="middle" class="l">d</text>
<rect x="505.95" y="401.3" width="9.35" height="34.07" fill="#fc861b" stroke="#b85a10" stroke-width="0.6"/>
<path d="M510.62 432.35V438.39M509.27 432.35H511.97M509.27 438.39H511.97" stroke="#8a8a8a" stroke-width="0.55" fill="none"/>
<text x="510.62" y="446.19" font-size="9.3" text-anchor="middle" class="l">e</text>
<rect x="515.3" y="392.03" width="9.35" height="9.27" fill="#4cb04a" stroke="#2c6e2c" stroke-width="0.6"/>
<path d="M519.97 389V395.05M518.62 389H521.32M518.62 395.05H521.32" stroke="#8a8a8a" stroke-width="0.55" fill="none"/>
<text x="519.97" y="386.7" font-size="9.3" text-anchor="middle" class="l">d</text>
<path d="M316.4 401.3H527" stroke="#3a3a3a" stroke-width="0.9" fill="none"/>
<path d="M316.4 280.34V451.7H527" stroke="#3a3a3a" stroke-width="0.9" fill="none"/>
<text x="310.8" y="444.42" font-size="8.7" font-weight="bold" text-anchor="end">-4</text>
<text x="310.8" y="424.26" font-size="8.7" font-weight="bold" text-anchor="end">-2</text>
<text x="310.8" y="404.1" font-size="8.7" font-weight="bold" text-anchor="end">0</text>
<text x="310.8" y="383.94" font-size="8.7" font-weight="bold" text-anchor="end">2</text>
<text x="310.8" y="363.78" font-size="8.7" font-weight="bold" text-anchor="end">4</text>
<text x="310.8" y="343.62" font-size="8.7" font-weight="bold" text-anchor="end">6</text>
<text x="310.8" y="323.46" font-size="8.7" font-weight="bold" text-anchor="end">8</text>
<text x="310.8" y="303.3" font-size="8.7" font-weight="bold" text-anchor="end">10</text>
<text x="310.8" y="283.14" font-size="8.7" font-weight="bold" text-anchor="end">12</text>
<text x="328.1" y="463.1" font-size="7.6" font-weight="bold" text-anchor="middle">CK</text>
<text x="351.5" y="463.1" font-size="7.6" font-weight="bold" text-anchor="middle">CF</text>
<text x="374.9" y="463.1" font-size="7.6" font-weight="bold" text-anchor="middle">CFM</text>
<text x="398.3" y="463.1" font-size="7.6" font-weight="bold" text-anchor="middle">CFD</text>
<text x="421.7" y="463.1" font-size="7.6" font-weight="bold" text-anchor="middle">CFR</text>
<text x="445.1" y="463.1" font-size="7.6" font-weight="bold" text-anchor="middle">CFL</text>
<text x="468.5" y="463.1" font-size="7.6" font-weight="bold" text-anchor="middle">CFDM</text>
<text x="491.9" y="463.1" font-size="7.6" font-weight="bold" text-anchor="middle">CFRM</text>
<text x="515.3" y="463.1" font-size="7.6" font-weight="bold" text-anchor="middle">CFLM</text>
<path d="M313.2 441.62H316.4M313.2 421.46H316.4M313.2 401.3H316.4M313.2 381.14H316.4M313.2 360.98H316.4M313.2 340.82H316.4M313.2 320.66H316.4M313.2 300.5H316.4M313.2 280.34H316.4M314.8 451.7H316.4M314.8 431.54H316.4M314.8 411.38H316.4M314.8 391.22H316.4M314.8 371.06H316.4M314.8 350.9H316.4M314.8 330.74H316.4M314.8 310.58H316.4M314.8 290.42H316.4M328.1 451.7V454.5M339.8 451.7V453.3M351.5 451.7V454.5M363.2 451.7V453.3M374.9 451.7V454.5M386.6 451.7V453.3M398.3 451.7V454.5M410 451.7V453.3M421.7 451.7V454.5M433.4 451.7V453.3M445.1 451.7V454.5M456.8 451.7V453.3M468.5 451.7V454.5M480.2 451.7V453.3M491.9 451.7V454.5M503.6 451.7V453.3M515.3 451.7V454.5M527 451.7V453.3" stroke="#3a3a3a" stroke-width="0.8" fill="none"/>
<text x="418.7" y="477.5" font-size="8.9" font-weight="bold" text-anchor="middle">Treatments</text>
<text transform="translate(298.2 366.4) rotate(-90)" font-size="8.7" font-weight="bold" text-anchor="middle">PAD</text>
<text x="20.2" y="506.1" font-size="14.3" font-weight="bold">(e)</text>
<rect x="41.65" y="599.04" width="9.35" height="96.76" fill="#fc861b" stroke="#b85a10" stroke-width="0.6"/>
<path d="M46.32 598.23V599.85M44.97 598.23H47.67M44.97 599.85H47.67" stroke="#8a8a8a" stroke-width="0.55" fill="none"/>
<text x="46.32" y="595.93" font-size="9.3" text-anchor="middle" class="l">a</text>
<rect x="51" y="593.79" width="9.35" height="102.01" fill="#4cb04a" stroke="#2c6e2c" stroke-width="0.6"/>
<path d="M55.67 593.39V594.19M54.32 593.39H57.02M54.32 594.19H57.02" stroke="#8a8a8a" stroke-width="0.55" fill="none"/>
<text x="55.67" y="591.09" font-size="9.3" text-anchor="middle" class="l">a</text>
<rect x="65.05" y="607.12" width="9.35" height="88.68" fill="#fc861b" stroke="#b85a10" stroke-width="0.6"/>
<path d="M69.72 606.72V607.53M68.38 606.72H71.07M68.38 607.53H71.07" stroke="#8a8a8a" stroke-width="0.55" fill="none"/>
<text x="69.72" y="604.42" font-size="9.3" text-anchor="middle" class="l">b</text>
<rect x="74.4" y="617.42" width="9.35" height="78.38" fill="#4cb04a" stroke="#2c6e2c" stroke-width="0.6"/>
<path d="M79.07 617.02V617.83M77.72 617.02H80.42M77.72 617.83H80.42" stroke="#8a8a8a" stroke-width="0.55" fill="none"/>
<text x="79.07" y="614.72" font-size="9.3" text-anchor="middle" class="l">b</text>
<rect x="88.45" y="611.36" width="9.35" height="84.44" fill="#fc861b" stroke="#b85a10" stroke-width="0.6"/>
<path d="M93.12 610.96V611.77M91.78 610.96H94.47M91.78 611.77H94.47" stroke="#8a8a8a" stroke-width="0.55" fill="none"/>
<text x="93.12" y="608.66" font-size="9.3" text-anchor="middle" class="l">b</text>
<rect x="97.8" y="616.21" width="9.35" height="79.59" fill="#4cb04a" stroke="#2c6e2c" stroke-width="0.6"/>
<path d="M102.47 615.81V616.62M101.12 615.81H103.82M101.12 616.62H103.82" stroke="#8a8a8a" stroke-width="0.55" fill="none"/>
<text x="102.47" y="613.51" font-size="9.3" text-anchor="middle" class="l">b</text>
<rect x="111.85" y="606.92" width="9.35" height="88.88" fill="#fc861b" stroke="#b85a10" stroke-width="0.6"/>
<path d="M116.52 603.69V610.15M115.17 603.69H117.87M115.17 610.15H117.87" stroke="#8a8a8a" stroke-width="0.55" fill="none"/>
<text x="116.52" y="601.39" font-size="9.3" text-anchor="middle" class="l">b</text>
<rect x="121.2" y="631.56" width="9.35" height="64.24" fill="#4cb04a" stroke="#2c6e2c" stroke-width="0.6"/>
<path d="M125.87 628.74V634.39M124.52 628.74H127.22M124.52 634.39H127.22" stroke="#8a8a8a" stroke-width="0.55" fill="none"/>
<text x="125.87" y="626.44" font-size="9.3" text-anchor="middle" class="l">d</text>
<rect x="135.25" y="617.83" width="9.35" height="77.97" fill="#fc861b" stroke="#b85a10" stroke-width="0.6"/>
<path d="M139.93 617.02V618.64M138.58 617.02H141.28M138.58 618.64H141.28" stroke="#8a8a8a" stroke-width="0.55" fill="none"/>
<text x="139.93" y="614.72" font-size="9.3" text-anchor="middle" class="l">c</text>
<rect x="144.6" y="627.52" width="9.35" height="68.28" fill="#4cb04a" stroke="#2c6e2c" stroke-width="0.6"/>
<path d="M149.28 621.46V633.58M147.93 621.46H150.62M147.93 633.58H150.62" stroke="#8a8a8a" stroke-width="0.55" fill="none"/>
<text x="149.28" y="619.16" font-size="9.3" text-anchor="middle" class="l">cd</text>
<rect x="158.65" y="622.47" width="9.35" height="73.33" fill="#fc861b" stroke="#b85a10" stroke-width="0.6"/>
<path d="M163.33 620.05V624.9M161.98 620.05H164.68M161.98 624.9H164.68" stroke="#8a8a8a" stroke-width="0.55" fill="none"/>
<text x="163.33" y="617.75" font-size="9.3" text-anchor="middle" class="l">cd</text>
<rect x="168" y="632.57" width="9.35" height="63.23" fill="#4cb04a" stroke="#2c6e2c" stroke-width="0.6"/>
<path d="M172.68 632.17V632.98M171.33 632.17H174.03M171.33 632.98H174.03" stroke="#8a8a8a" stroke-width="0.55" fill="none"/>
<text x="172.68" y="629.87" font-size="9.3" text-anchor="middle" class="l">d</text>
<rect x="182.05" y="621.67" width="9.35" height="74.13" fill="#fc861b" stroke="#b85a10" stroke-width="0.6"/>
<path d="M186.72 614.39V628.94M185.38 614.39H188.07M185.38 628.94H188.07" stroke="#8a8a8a" stroke-width="0.55" fill="none"/>
<text x="186.72" y="612.09" font-size="9.3" text-anchor="middle" class="l">cd</text>
<rect x="191.4" y="631.16" width="9.35" height="64.64" fill="#4cb04a" stroke="#2c6e2c" stroke-width="0.6"/>
<path d="M196.07 630.35V631.97M194.72 630.35H197.42M194.72 631.97H197.42" stroke="#8a8a8a" stroke-width="0.55" fill="none"/>
<text x="196.07" y="628.05" font-size="9.3" text-anchor="middle" class="l">d</text>
<rect x="205.45" y="628.01" width="9.35" height="67.79" fill="#fc861b" stroke="#b85a10" stroke-width="0.6"/>
<path d="M210.13 625.58V630.43M208.78 625.58H211.48M208.78 630.43H211.48" stroke="#8a8a8a" stroke-width="0.55" fill="none"/>
<text x="210.13" y="623.28" font-size="9.3" text-anchor="middle" class="l">d</text>
<rect x="214.8" y="632.17" width="9.35" height="63.63" fill="#4cb04a" stroke="#2c6e2c" stroke-width="0.6"/>
<path d="M219.48 630.15V634.19M218.13 630.15H220.83M218.13 634.19H220.83" stroke="#8a8a8a" stroke-width="0.55" fill="none"/>
<text x="219.48" y="627.85" font-size="9.3" text-anchor="middle" class="l">d</text>
<rect x="228.85" y="621.46" width="9.35" height="74.34" fill="#fc861b" stroke="#b85a10" stroke-width="0.6"/>
<path d="M233.53 620.25V622.68M232.18 620.25H234.88M232.18 622.68H234.88" stroke="#8a8a8a" stroke-width="0.55" fill="none"/>
<text x="233.53" y="617.95" font-size="9.3" text-anchor="middle" class="l">c</text>
<rect x="238.2" y="623.48" width="9.35" height="72.32" fill="#4cb04a" stroke="#2c6e2c" stroke-width="0.6"/>
<path d="M242.88 616.62V630.35M241.53 616.62H244.22M241.53 630.35H244.22" stroke="#8a8a8a" stroke-width="0.55" fill="none"/>
<text x="242.88" y="614.32" font-size="9.3" text-anchor="middle" class="l">c</text>
<path d="M39.3 524.1V695.8H249.9" stroke="#3a3a3a" stroke-width="0.9" fill="none"/>
<text x="33.7" y="698.6" font-size="8.7" font-weight="bold" text-anchor="end">0.000</text>
<text x="33.7" y="678.4" font-size="8.7" font-weight="bold" text-anchor="end">0.005</text>
<text x="33.7" y="658.2" font-size="8.7" font-weight="bold" text-anchor="end">0.010</text>
<text x="33.7" y="638" font-size="8.7" font-weight="bold" text-anchor="end">0.015</text>
<text x="33.7" y="617.8" font-size="8.7" font-weight="bold" text-anchor="end">0.020</text>
<text x="33.7" y="597.6" font-size="8.7" font-weight="bold" text-anchor="end">0.025</text>
<text x="33.7" y="577.4" font-size="8.7" font-weight="bold" text-anchor="end">0.030</text>
<text x="33.7" y="557.2" font-size="8.7" font-weight="bold" text-anchor="end">0.035</text>
<text x="33.7" y="537" font-size="8.7" font-weight="bold" text-anchor="end">0.040</text>
<text x="51" y="707.7" font-size="7.6" font-weight="bold" text-anchor="middle">CK</text>
<text x="74.4" y="707.7" font-size="7.6" font-weight="bold" text-anchor="middle">CF</text>
<text x="97.8" y="707.7" font-size="7.6" font-weight="bold" text-anchor="middle">CFM</text>
<text x="121.2" y="707.7" font-size="7.6" font-weight="bold" text-anchor="middle">CFD</text>
<text x="144.6" y="707.7" font-size="7.6" font-weight="bold" text-anchor="middle">CFR</text>
<text x="168" y="707.7" font-size="7.6" font-weight="bold" text-anchor="middle">CFL</text>
<text x="191.4" y="707.7" font-size="7.6" font-weight="bold" text-anchor="middle">CFDM</text>
<text x="214.8" y="707.7" font-size="7.6" font-weight="bold" text-anchor="middle">CFRM</text>
<text x="238.2" y="707.7" font-size="7.6" font-weight="bold" text-anchor="middle">CFLM</text>
<path d="M36.1 695.8H39.3M36.1 675.6H39.3M36.1 655.4H39.3M36.1 635.2H39.3M36.1 615H39.3M36.1 594.8H39.3M36.1 574.6H39.3M36.1 554.4H39.3M36.1 534.2H39.3M37.7 685.7H39.3M37.7 665.5H39.3M37.7 645.3H39.3M37.7 625.1H39.3M37.7 604.9H39.3M37.7 584.7H39.3M37.7 564.5H39.3M37.7 544.3H39.3M37.7 524.1H39.3M51 695.8V698.6M62.7 695.8V697.4M74.4 695.8V698.6M86.1 695.8V697.4M97.8 695.8V698.6M109.5 695.8V697.4M121.2 695.8V698.6M132.9 695.8V697.4M144.6 695.8V698.6M156.3 695.8V697.4M168 695.8V698.6M179.7 695.8V697.4M191.4 695.8V698.6M203.1 695.8V697.4M214.8 695.8V698.6M226.5 695.8V697.4M238.2 695.8V698.6M249.9 695.8V697.4" stroke="#3a3a3a" stroke-width="0.8" fill="none"/>
<text x="144.6" y="720.9" font-size="8.9" font-weight="bold" text-anchor="middle">Treatments</text>
<text transform="translate(10.3 609.8) rotate(-90)" font-size="8.7" font-weight="bold" text-anchor="middle">K</text>
<text x="298.1" y="504.1" font-size="14.3" font-weight="bold">(f)</text>
<rect x="318.75" y="545.15" width="9.35" height="150.65" fill="#fc861b" stroke="#b85a10" stroke-width="0.6"/>
<path d="M323.42 544.24V546.07M322.07 544.24H324.77M322.07 546.07H324.77" stroke="#8a8a8a" stroke-width="0.55" fill="none"/>
<text x="323.42" y="541.94" font-size="9.3" text-anchor="middle" class="l">a</text>
<rect x="328.1" y="547.67" width="9.35" height="148.13" fill="#4cb04a" stroke="#2c6e2c" stroke-width="0.6"/>
<path d="M332.77 546.75V548.58M331.42 546.75H334.12M331.42 548.58H334.12" stroke="#8a8a8a" stroke-width="0.55" fill="none"/>
<text x="332.77" y="544.45" font-size="9.3" text-anchor="middle" class="l">a</text>
<rect x="342.15" y="571.9" width="9.35" height="123.9" fill="#fc861b" stroke="#b85a10" stroke-width="0.6"/>
<path d="M346.82 571.21V572.58M345.47 571.21H348.18M345.47 572.58H348.18" stroke="#8a8a8a" stroke-width="0.55" fill="none"/>
<text x="346.82" y="568.91" font-size="9.3" text-anchor="middle" class="l">b</text>
<rect x="351.5" y="573.84" width="9.35" height="121.96" fill="#4cb04a" stroke="#2c6e2c" stroke-width="0.6"/>
<path d="M356.18 572.93V574.76M354.82 572.93H357.53M354.82 574.76H357.53" stroke="#8a8a8a" stroke-width="0.55" fill="none"/>
<text x="356.18" y="570.63" font-size="9.3" text-anchor="middle" class="l">b</text>
<rect x="365.55" y="574.64" width="9.35" height="121.16" fill="#fc861b" stroke="#b85a10" stroke-width="0.6"/>
<path d="M370.22 573.96V575.33M368.87 573.96H371.57M368.87 575.33H371.57" stroke="#8a8a8a" stroke-width="0.55" fill="none"/>
<text x="370.22" y="571.66" font-size="9.3" text-anchor="middle" class="l">b</text>
<rect x="374.9" y="573.73" width="9.35" height="122.07" fill="#4cb04a" stroke="#2c6e2c" stroke-width="0.6"/>
<path d="M379.57 573.04V574.41M378.22 573.04H380.93M378.22 574.41H380.93" stroke="#8a8a8a" stroke-width="0.55" fill="none"/>
<text x="379.57" y="570.74" font-size="9.3" text-anchor="middle" class="l">b</text>
<rect x="388.95" y="607.79" width="9.35" height="88.01" fill="#fc861b" stroke="#b85a10" stroke-width="0.6"/>
<path d="M393.62 600.93V614.65M392.27 600.93H394.97M392.27 614.65H394.97" stroke="#8a8a8a" stroke-width="0.55" fill="none"/>
<text x="393.62" y="598.63" font-size="9.3" text-anchor="middle" class="l">c</text>
<rect x="398.3" y="625.62" width="9.35" height="70.18" fill="#4cb04a" stroke="#2c6e2c" stroke-width="0.6"/>
<path d="M402.97 618.76V632.48M401.62 618.76H404.32M401.62 632.48H404.32" stroke="#8a8a8a" stroke-width="0.55" fill="none"/>
<text x="402.97" y="616.46" font-size="9.3" text-anchor="middle" class="l">cd</text>
<rect x="412.35" y="624.48" width="9.35" height="71.32" fill="#fc861b" stroke="#b85a10" stroke-width="0.6"/>
<path d="M417.02 622.19V626.76M415.67 622.19H418.38M415.67 626.76H418.38" stroke="#8a8a8a" stroke-width="0.55" fill="none"/>
<text x="417.02" y="619.89" font-size="9.3" text-anchor="middle" class="l">de</text>
<rect x="421.7" y="614.42" width="9.35" height="81.38" fill="#4cb04a" stroke="#2c6e2c" stroke-width="0.6"/>
<path d="M426.38 592.47V636.36M425.02 592.47H427.73M425.02 636.36H427.73" stroke="#8a8a8a" stroke-width="0.55" fill="none"/>
<text x="426.38" y="590.17" font-size="9.3" text-anchor="middle" class="l">c</text>
<rect x="435.75" y="630.99" width="9.35" height="64.81" fill="#fc861b" stroke="#b85a10" stroke-width="0.6"/>
<path d="M440.42 626.42V635.56M439.07 626.42H441.77M439.07 635.56H441.77" stroke="#8a8a8a" stroke-width="0.55" fill="none"/>
<text x="440.42" y="624.12" font-size="9.3" text-anchor="middle" class="l">ef</text>
<rect x="445.1" y="646.54" width="9.35" height="49.26" fill="#4cb04a" stroke="#2c6e2c" stroke-width="0.6"/>
<path d="M449.77 645.85V647.22M448.42 645.85H451.12M448.42 647.22H451.12" stroke="#8a8a8a" stroke-width="0.55" fill="none"/>
<text x="449.77" y="643.55" font-size="9.3" text-anchor="middle" class="l">e</text>
<rect x="459.15" y="621.28" width="9.35" height="74.52" fill="#fc861b" stroke="#b85a10" stroke-width="0.6"/>
<path d="M463.82 610.53V632.02M462.47 610.53H465.18M462.47 632.02H465.18" stroke="#8a8a8a" stroke-width="0.55" fill="none"/>
<text x="463.82" y="608.23" font-size="9.3" text-anchor="middle" class="l">d</text>
<rect x="468.5" y="632.25" width="9.35" height="63.55" fill="#4cb04a" stroke="#2c6e2c" stroke-width="0.6"/>
<path d="M473.18 623.79V640.71M471.82 623.79H474.53M471.82 640.71H474.53" stroke="#8a8a8a" stroke-width="0.55" fill="none"/>
<text x="473.18" y="621.49" font-size="9.3" text-anchor="middle" class="l">de</text>
<rect x="482.55" y="637.62" width="9.35" height="58.18" fill="#fc861b" stroke="#b85a10" stroke-width="0.6"/>
<path d="M487.22 632.36V642.88M485.87 632.36H488.57M485.87 642.88H488.57" stroke="#8a8a8a" stroke-width="0.55" fill="none"/>
<text x="487.22" y="630.06" font-size="9.3" text-anchor="middle" class="l">f</text>
<rect x="491.9" y="632.82" width="9.35" height="62.98" fill="#4cb04a" stroke="#2c6e2c" stroke-width="0.6"/>
<path d="M496.57 630.08V635.56M495.22 630.08H497.93M495.22 635.56H497.93" stroke="#8a8a8a" stroke-width="0.55" fill="none"/>
<text x="496.57" y="627.78" font-size="9.3" text-anchor="middle" class="l">de</text>
<rect x="505.95" y="627.68" width="9.35" height="68.12" fill="#fc861b" stroke="#b85a10" stroke-width="0.6"/>
<path d="M510.62 626.76V628.59M509.27 626.76H511.97M509.27 628.59H511.97" stroke="#8a8a8a" stroke-width="0.55" fill="none"/>
<text x="510.62" y="624.46" font-size="9.3" text-anchor="middle" class="l">de</text>
<rect x="515.3" y="624.02" width="9.35" height="71.78" fill="#4cb04a" stroke="#2c6e2c" stroke-width="0.6"/>
<path d="M519.97 614.19V633.85M518.62 614.19H521.32M518.62 633.85H521.32" stroke="#8a8a8a" stroke-width="0.55" fill="none"/>
<text x="519.97" y="611.89" font-size="9.3" text-anchor="middle" class="l">cd</text>
<path d="M316.4 524.35V695.8H527" stroke="#3a3a3a" stroke-width="0.9" fill="none"/>
<text x="310.8" y="698.6" font-size="8.7" font-weight="bold" text-anchor="end">0</text>
<text x="310.8" y="675.74" font-size="8.7" font-weight="bold" text-anchor="end">10</text>
<text x="310.8" y="652.88" font-size="8.7" font-weight="bold" text-anchor="end">20</text>
<text x="310.8" y="630.02" font-size="8.7" font-weight="bold" text-anchor="end">30</text>
<text x="310.8" y="607.16" font-size="8.7" font-weight="bold" text-anchor="end">40</text>
<text x="310.8" y="584.3" font-size="8.7" font-weight="bold" text-anchor="end">50</text>
<text x="310.8" y="561.44" font-size="8.7" font-weight="bold" text-anchor="end">60</text>
<text x="310.8" y="538.58" font-size="8.7" font-weight="bold" text-anchor="end">70</text>
<text x="328.1" y="707.7" font-size="7.6" font-weight="bold" text-anchor="middle">CK</text>
<text x="351.5" y="707.7" font-size="7.6" font-weight="bold" text-anchor="middle">CF</text>
<text x="374.9" y="707.7" font-size="7.6" font-weight="bold" text-anchor="middle">CFM</text>
<text x="398.3" y="707.7" font-size="7.6" font-weight="bold" text-anchor="middle">CFD</text>
<text x="421.7" y="707.7" font-size="7.6" font-weight="bold" text-anchor="middle">CFR</text>
<text x="445.1" y="707.7" font-size="7.6" font-weight="bold" text-anchor="middle">CFL</text>
<text x="468.5" y="707.7" font-size="7.6" font-weight="bold" text-anchor="middle">CFDM</text>
<text x="491.9" y="707.7" font-size="7.6" font-weight="bold" text-anchor="middle">CFRM</text>
<text x="515.3" y="707.7" font-size="7.6" font-weight="bold" text-anchor="middle">CFLM</text>
<path d="M313.2 695.8H316.4M313.2 672.94H316.4M313.2 650.08H316.4M313.2 627.22H316.4M313.2 604.36H316.4M313.2 581.5H316.4M313.2 558.64H316.4M313.2 535.78H316.4M314.8 684.37H316.4M314.8 661.51H316.4M314.8 638.65H316.4M314.8 615.79H316.4M314.8 592.93H316.4M314.8 570.07H316.4M314.8 547.21H316.4M314.8 524.35H316.4M328.1 695.8V698.6M339.8 695.8V697.4M351.5 695.8V698.6M363.2 695.8V697.4M374.9 695.8V698.6M386.6 695.8V697.4M398.3 695.8V698.6M410 695.8V697.4M421.7 695.8V698.6M433.4 695.8V697.4M445.1 695.8V698.6M456.8 695.8V697.4M468.5 695.8V698.6M480.2 695.8V697.4M491.9 695.8V698.6M503.6 695.8V697.4M515.3 695.8V698.6M527 695.8V697.4" stroke="#3a3a3a" stroke-width="0.8" fill="none"/>
<text x="421.2" y="720.9" font-size="8.9" font-weight="bold" text-anchor="middle">Treatments</text>
<text transform="translate(298.2 609.7) rotate(-90)" font-size="8.7" font-weight="bold" text-anchor="middle">MWSSA</text>
<rect x="489.4" y="19.3" width="56.2" height="22.7" fill="#fff" stroke="#999" stroke-width="0.8"/>
<rect x="490.9" y="20.9" width="19.5" height="9.0" fill="#fc861b" stroke="#6a4a2a" stroke-width="0.8"/>
<rect x="490.9" y="31.7" width="19.5" height="9.2" fill="#4cb04a" stroke="#3a5a3a" stroke-width="0.8"/>
<text x="512.5" y="28.5" font-size="8.9">0-15cm</text>
<text x="513.2" y="39.1" font-size="8.9">15-30cm</text>
</svg>
</body></html>
